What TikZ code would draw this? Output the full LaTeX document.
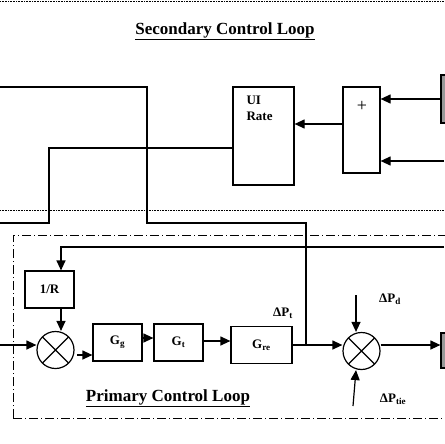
\documentclass[tikz,border=0pt]{standalone}
\usepackage{fontspec}
\setmainfont{Liberation Serif}
\usetikzlibrary{arrows.meta,calc}

\begin{document}
\begin{tikzpicture}[x=1pt,y=-1pt,
    line width=1.2pt,
    block/.style={draw, rectangle, inner sep=0pt, font=\fontsize{13}{16}\selectfont\bfseries},
    sumpt/.style={draw, circle, minimum size=37pt, inner sep=0pt,
      path picture={\draw (path picture bounding box.north west) -- (path picture bounding box.south east)
                          (path picture bounding box.north east) -- (path picture bounding box.south west);}},
    greybox/.style={draw, fill=gray!80, rectangle, inner sep=0pt, minimum width=12pt},
    arr/.style={-{Triangle[length=10pt,width=9pt]}},
    sig/.style={font=\fontsize{13}{16}\selectfont\bfseries},
    looptitle/.style={font=\fontsize{17}{20}\selectfont\bfseries}]
  \useasboundingbox (0,0) rectangle (444,444);

  % Draw the dotted separators and the primary loop frame
  \draw[line width=0.6pt, densely dotted] (0,1) -- (444,1);
  \draw[line width=0.6pt, densely dotted] (0,210) -- (444,210);
  \draw[line width=0.8pt, dash pattern=on 9pt off 3pt on 1pt off 3pt] (13,418) -- (13,235) -- (470,235);
  \draw[line width=0.8pt, dash pattern=on 9pt off 3pt on 1pt off 3pt] (13,418) -- (470,418);

  % Secondary control loop
  \node[looptitle] (sectitle) at (225,31) {\underline{Secondary Control Loop}};
  \node[block, minimum width=61pt, minimum height=98pt] (uirate) at (263.5,136) {};
  \node[sig, anchor=north west, align=left, inner sep=0pt] (uitext) at (246,95) {UI\\Rate};
  \node[block, minimum width=37pt, minimum height=86pt] (plus) at (361.5,130) {};
  \node[font=\fontsize{18}{20}\selectfont] (plustext) at (362,106) {+};
  \node[greybox, minimum height=48pt] (grey1) at (447,99) {};
  \coordinate (ace) at (444,161);

  \draw[arr] (grey1.west) -- (grey1.west -| plus.east);
  \draw[arr] (ace) -- (ace -| plus.east);
  \draw[arr] ([yshift=6pt]plus.west) -- ([yshift=6pt]plus.west -| uirate.east);

  % Primary control loop
  \node[looptitle] (primtitle) at (168,398) {\underline{Primary Control Loop}};
  \node[block, minimum width=49pt, minimum height=37pt] (droop) at (49.5,289.5) {1/R};
  \node[sumpt] (sum1) at (55.5,350) {};
  \node[block, minimum width=49pt, minimum height=37pt] (gg) at (117.5,342.5) {G\textsubscript{g}};
  \node[block, minimum width=49pt, minimum height=37pt] (gt) at (178.5,342.5) {G\textsubscript{t}};
  \node[block, minimum width=61pt, minimum height=37pt] (gre) at (261.5,345) {G\textsubscript{re}};
  \node[sumpt] (sum2) at (361.5,351) {};
  \node[greybox, minimum height=35pt] (grey2) at (447,350.5) {};

  \node[sig] (dpt) at (283,313) {ΔP\textsubscript{t}};
  \node[sig] (dpd) at (390,299) {ΔP\textsubscript{d}};
  \node[sig] (dptie) at (393,399) {ΔP\textsubscript{tie}};

  \coordinate (in) at (0,345);
  \coordinate (jt) at (306,345);
  \coordinate (pd) at (356,295);
  \coordinate (ptie) at (353,406);
  \coordinate (fb) at (444,247);

  \draw[arr] (in) -- (in -| sum1.west);
  \draw[arr] (fb) -| ([xshift=11.5pt]droop.north);
  \draw[arr] ([xshift=11.5pt]droop.south) -- ([xshift=11.5pt]droop.south |- sum1.north);
  \draw[arr] ($(gg.west)+(-15,12.5)$) -- ($(gg.west)+(0,12.5)$);
  \draw[arr] ([yshift=4.5pt]gg.east) -- ([yshift=4.5pt]gt.west);
  \draw[arr] ([yshift=1.5pt]gt.east) -- ([yshift=1.5pt]gt.east -| gre.west);
  \draw[arr] (gre.east) -- (gre.east -| sum2.west);
  \draw[arr] (pd) -- (pd |- sum2.north);
  \draw[arr] (ptie) -- ([xshift=-5.5pt]sum2.south);
  \draw[arr] (sum2.east |- jt) -- (grey2.west |- jt);

  % Links between the two loops
  \draw (jt) -- (306,223) -- (147,223) -- (147,87) -- (0,87);
  \draw ([yshift=-12pt]uirate.west) -| (49,223) -- (0,223);
\end{tikzpicture}
\end{document}
